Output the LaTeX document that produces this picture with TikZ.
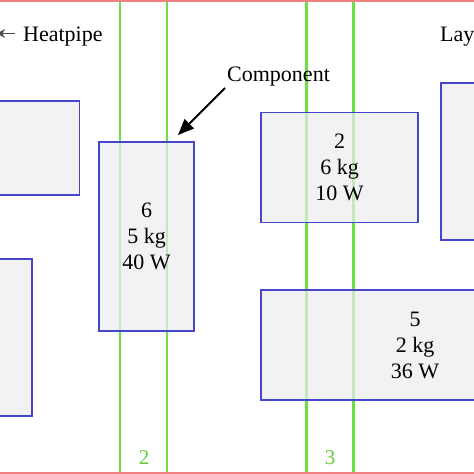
\documentclass[tikz,border=0pt]{standalone}
\usepackage{fontspec}
\setmainfont{Liberation Serif}
\usetikzlibrary{arrows.meta}
\definecolor{pipegreen}{RGB}{110,222,70}
\definecolor{labgreen}{RGB}{100,205,50}
\definecolor{boxblue}{RGB}{70,70,200}
\definecolor{boxfill}{RGB}{236,236,240}
\definecolor{edgered}{RGB}{240,128,128}
\tikzset{
  pipe/.style={draw=pipegreen, line width=2.2pt},
  comp/.style={draw=boxblue, line width=1.8pt, fill=boxfill, fill opacity=0.7, text opacity=1, inner sep=0pt, align=center, font=\fontsize{22}{26}\selectfont},
  lbl/.style={inner sep=0pt, font=\fontsize{22}{26}\selectfont},
  pipelbl/.style={inner sep=0pt, text=labgreen, font=\fontsize{21}{24}\selectfont},
}
\begin{document}
\begin{tikzpicture}[x=1pt,y=-1pt]
\useasboundingbox (0,0) rectangle (474,474);
\begin{scope}
\clip (0,0) rectangle (474,474);
% heatpipes
\node[pipe, minimum width=47pt, minimum height=476pt, inner sep=0pt] (hp2) at (143.5,237) {};
\node[pipe, minimum width=47pt, minimum height=476pt, inner sep=0pt] (hp3) at (330,237) {};
% components
\node[comp, minimum width=120pt, minimum height=94pt] (cl1) at (19.5,148) {};
\node[comp, minimum width=80pt, minimum height=157pt] (cl2) at (-8,337.5) {};
\node[comp, minimum width=95pt, minimum height=189pt] (c6) at (146.5,236.5) {6\\5 kg\\40 W};
\node[comp, minimum width=157pt, minimum height=110pt] (c2) at (339.5,167.5) {2\\6 kg\\10 W};
\node[comp, minimum width=80pt, minimum height=157pt] (cr1) at (481,161.5) {};
\node[comp, minimum width=308pt, minimum height=110pt] (c5) at (415,345) {5\\2 kg\\36 W};
% red boundaries
\draw[edgered, line width=2.5pt] (0,0.5) -- (474,0.5);
\draw[edgered, line width=2.5pt] (0,473.5) -- (474,473.5);
% labels
\node[lbl, anchor=base west] (hplab) at (23,41) {Heatpipe};
\coordinate (hpa) at (15,33.5);
\coordinate (hpb) at (-3,33.5);
\draw[black!70, line width=1.6pt, -{Stealth[length=8pt,width=9pt]}] (hpa) -- (hpb);
\node[lbl, anchor=base west] (laylab) at (440,41) {Layer};
\node[lbl, anchor=base west] (complab) at (227,81) {Component};
\coordinate (cstart) at (225,88);
\coordinate (ctip) at (178,135);
\draw[black, line width=1.8pt, -{Triangle[length=16pt,width=13pt]}] (cstart) -- (ctip);
\node[pipelbl, anchor=base] (n2) at (144,464) {2};
\node[pipelbl, anchor=base] (n3) at (330,464) {3};
\end{scope}
\end{tikzpicture}
\end{document}
